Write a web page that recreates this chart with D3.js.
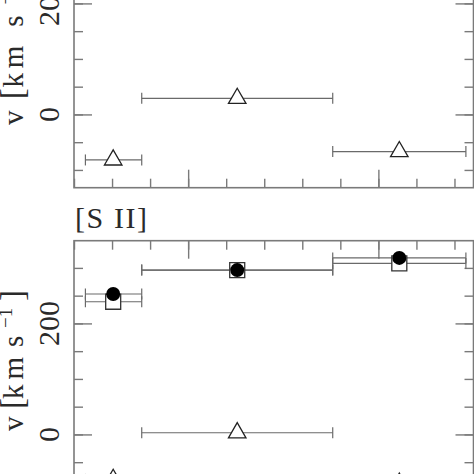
<!DOCTYPE html>
<html>
<head>
<meta charset="utf-8">
<script src="https://cdn.jsdelivr.net/npm/d3@7"></script>
<style>
body { margin: 0; background: #fff; }
text { font-family: "Liberation Serif", "Times New Roman", serif; fill: #2a2a2a; }
</style>
</head>
<body>
<div id="vis"></div>
<script>
'use strict';

// slit bins: centre and edges (arcsec)
var binX = [3.03, 6.29, 10.55];
var binLo = [2.30, 3.78, 8.80];
var binHi = [3.78, 8.80, 12.30];

// upper panel (only triangles visible)
var topTri = [-82, 29, -67];

// [S II] panel
var sTri = [-81, 3, -88];
var sSquare = [239, 296, 308];
var sCircle = [253, 296, 318];

var yMajorTicks = [0, 200];
var yLabels = ['0', '200'];
var xMajorTicks = [5, 10];

var xDomain = [2, 12.5];
var yDomain = [-132, 349];

//layout of the two panels (top one is cut by the window)
var margin = { left: 74 };
var W = 399.5, H = 267;
var panels = [
    { top: -79.3, name: '', tri: topTri, sq: null, circ: null, labelStart: 125, labelSpread: 1.17 },
    { top: 240.7, name: '[S II]', tri: sTri, sq: sSquare, circ: sCircle, labelStart: 431, labelSpread: 1 }
];

var svg = d3.select('#vis').append('svg')
    .attr('width', 474)
    .attr('height', 474);

var x = d3.scaleLinear().domain(xDomain).range([0, W]);
var y = d3.scaleLinear().domain(yDomain).range([H, 0]);

var axisColor = '#7a7a7a';
var barColor = '#6a6a6a';

function styleAxis(g) {
    g.selectAll('path').remove();
    g.selectAll('line').attr('stroke', axisColor).attr('stroke-width', 1.4);
    g.selectAll('text').remove();
}

function errorBars(g, vals) {
    vals.forEach(function (v, i) {
        g.append('line')
            .attr('x1', x(binLo[i])).attr('x2', x(binHi[i]))
            .attr('y1', y(v)).attr('y2', y(v))
            .attr('stroke', barColor).attr('stroke-width', 1.2);
        [binLo[i], binHi[i]].forEach(function (e) {
            g.append('line')
                .attr('x1', x(e)).attr('x2', x(e))
                .attr('y1', y(v) - 5.5).attr('y2', y(v) + 5.5)
                .attr('stroke', barColor).attr('stroke-width', 1.2);
        });
    });
}

function drawPanel(p) {
    var g = svg.append('g')
        .attr('transform', 'translate(' + margin.left + ',' + p.top + ')');

    //inward ticks on all four sides, major and minor
    var minorX = d3.range(2, 13, 1), minorY = d3.range(-100, 350, 50);
    g.append('g').call(d3.axisBottom(x).tickValues(minorX).tickSize(-9).tickSizeOuter(0))
        .attr('transform', 'translate(0,' + H + ')').call(styleAxis);
    g.append('g').call(d3.axisBottom(x).tickValues(xMajorTicks).tickSize(-18).tickSizeOuter(0))
        .attr('transform', 'translate(0,' + H + ')').call(styleAxis);
    g.append('g').call(d3.axisTop(x).tickValues(minorX).tickSize(-9).tickSizeOuter(0)).call(styleAxis);
    g.append('g').call(d3.axisTop(x).tickValues(xMajorTicks).tickSize(-18).tickSizeOuter(0)).call(styleAxis);
    g.append('g').call(d3.axisLeft(y).tickValues(minorY).tickSize(-9).tickSizeOuter(0)).call(styleAxis);
    g.append('g').call(d3.axisLeft(y).tickValues(yMajorTicks).tickSize(-18).tickSizeOuter(0)).call(styleAxis);
    g.append('g').attr('transform', 'translate(' + W + ',0)')
        .call(d3.axisRight(y).tickValues(minorY).tickSize(-9).tickSizeOuter(0)).call(styleAxis);
    g.append('g').attr('transform', 'translate(' + W + ',0)')
        .call(d3.axisRight(y).tickValues(yMajorTicks).tickSize(-18).tickSizeOuter(0)).call(styleAxis);

    //frame
    g.append('rect')
        .attr('width', W).attr('height', H)
        .attr('fill', 'none').attr('stroke', axisColor).attr('stroke-width', 1.6);

    //tick labels, rotated like the axis title
    yMajorTicks.forEach(function (t, i) {
        g.append('text')
            .attr('transform', 'translate(-15,' + y(t) + ') rotate(-90)')
            .attr('text-anchor', 'middle')
            .style('font-size', '30px')
            .text(yLabels[i]);
    });

    //axis title v [km s^-1], pieces spaced like the TeX original
    var k = p.labelSpread;
    var lab = svg.append('text')
        .attr('transform', 'translate(23,' + p.labelStart + ') rotate(-90)')
        .style('font-size', '29px');
    lab.append('tspan').attr('x', 0).text('v');
    lab.append('tspan').attr('x', 22 * k).style('font-size', '33px').text('[');
    lab.append('tspan').attr('x', 32 * k).attr('textLength', 42).text('km');
    lab.append('tspan').attr('x', 84 * k).text('s');
    lab.append('tspan').attr('x', 103 * k).attr('dy', -11).style('font-size', '19px').text('\u22121');
    lab.append('tspan').attr('x', 130 * k).attr('dy', 11).style('font-size', '33px').text(']');

    if (p.name) {
        svg.append('text')
            .attr('x', 75).attr('y', p.top - 12.5)
            .attr('textLength', 72)
            .attr('lengthAdjust', 'spacing')
            .style('font-size', '30px')
            .text(p.name);
    }

    //error bars behind markers
    errorBars(g, p.tri);
    if (p.sq) errorBars(g, p.sq);
    if (p.circ) errorBars(g, p.circ);

    g.selectAll('.tri').data(p.tri).enter().append('path')
        .attr('d', d3.symbol().type(d3.symbolTriangle).size(133))
        .attr('transform', function (d, i) { return 'translate(' + x(binX[i]) + ',' + y(d) + ')'; })
        .attr('fill', '#fff').attr('stroke', '#222').attr('stroke-width', 1.3);

    if (p.sq) {
        g.selectAll('.sq').data(p.sq).enter().append('path')
            .attr('d', d3.symbol().type(d3.symbolSquare).size(225))
            .attr('transform', function (d, i) { return 'translate(' + x(binX[i]) + ',' + y(d) + ')'; })
            .attr('fill', '#fff').attr('stroke', '#333').attr('stroke-width', 1.3);
    }
    if (p.circ) {
        g.selectAll('.circ').data(p.circ).enter().append('circle')
            .attr('cx', function (d, i) { return x(binX[i]); })
            .attr('cy', function (d) { return y(d); })
            .attr('r', 7)
            .attr('fill', '#000');
    }
}

panels.forEach(drawPanel);
</script>
</body>
</html>
